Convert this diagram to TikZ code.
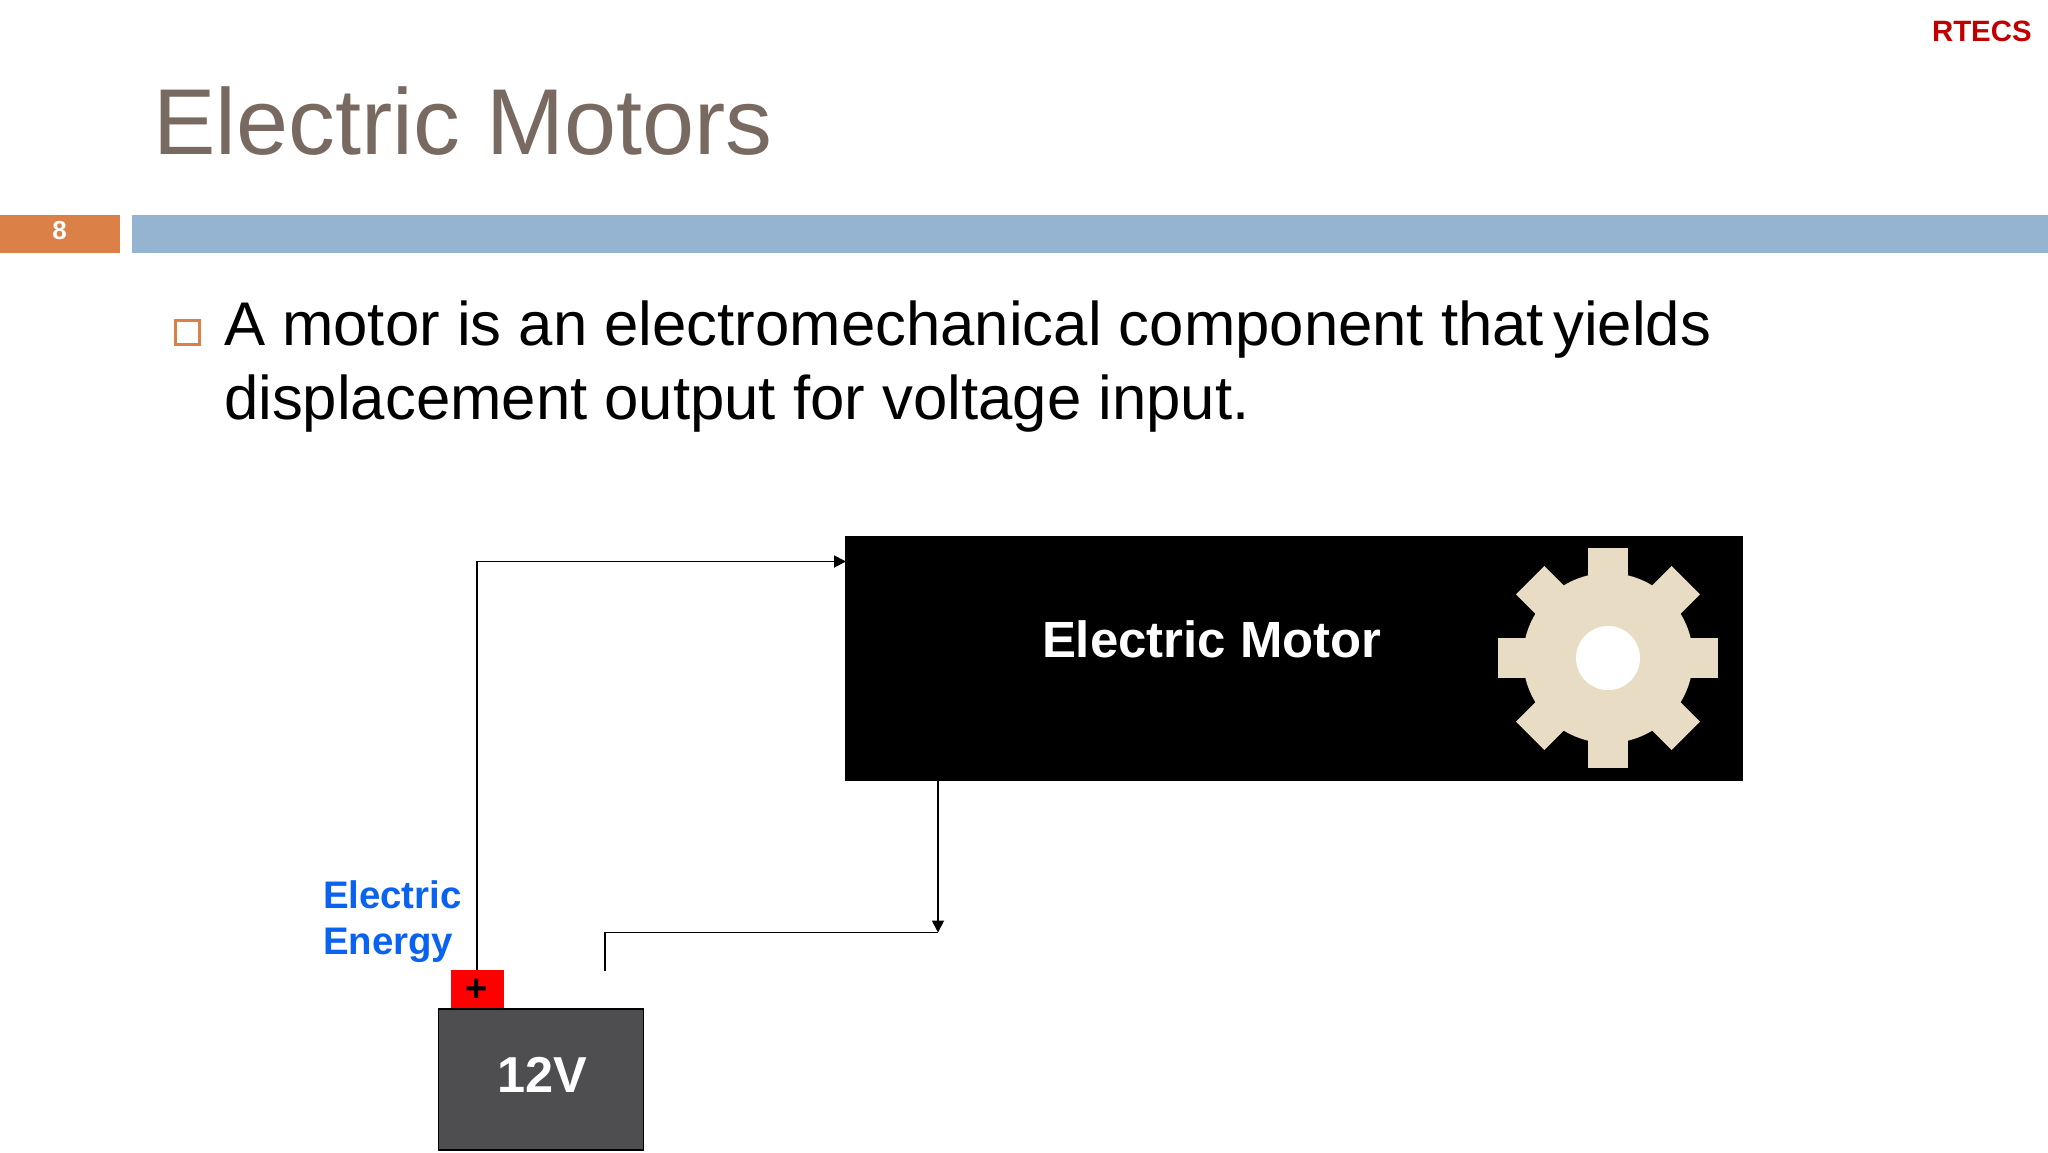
\documentclass[tikz,border=0pt]{standalone}
\usepackage{fontspec}
\setmainfont{Liberation Sans}
\usetikzlibrary{arrows.meta,calc}
\definecolor{titlebrown}{HTML}{786A60}
\definecolor{barorange}{HTML}{DB8148}
\definecolor{barblue}{HTML}{94B4D1}
\definecolor{gearcream}{HTML}{E8DCC4}
\definecolor{batgrey}{HTML}{4E4D50}
\definecolor{energyblue}{HTML}{0A62F0}
\definecolor{logored}{HTML}{C00000}
\newcommand{\fsz}[1]{\fontsize{#1pt}{#1pt}\selectfont}
\tikzset{
  plain/.style={inner sep=0pt,outer sep=0pt},
  txt/.style={plain,anchor=base west},
  bar/.style={plain,minimum height=38pt,anchor=north west},
  wire/.style={draw=black,line width=1.8pt},
  wirearrow/.style={wire,-{Triangle[length=12pt,width=12pt]}},
}
\begin{document}
\begin{tikzpicture}[x=1pt,y=-1pt]
\useasboundingbox (0,0) rectangle (2048,1152);
\fill[white] (0,0) rectangle (2048,1152);
% header
\node[txt,text=logored,font=\bfseries\fsz{29.4}] (logo) at (1932,41) {RTECS};
\node[txt,text=titlebrown,font=\fsz{93.6}] (title) at (153.5,154.5) {Electric Motors};
\node[bar,fill=barorange,minimum width=120pt] (numbar) at (0,215) {};
\node[bar,fill=barblue,minimum width=1916pt] (bluebar) at (132,215) {};
\node[plain,text=white,font=\bfseries\fsz{26}] (num) at ($(numbar.center)+(-0.5,-3)$) {8};
% bullet text
\node[plain,draw=barorange,line width=3pt,minimum size=24pt,anchor=center] (bullet) at (187,332) {};
\node[txt,font=\fsz{61.7}] (line1) at (224,345.5) {A motor is an electromechanical component that\hspace{-8pt} yields};
\node[txt,font=\fsz{61.7}] (line2) at (224,419.5) {displacement output for voltage input.};
% motor
\node[plain,fill=black,minimum width=898pt,minimum height=245pt,anchor=north west] (motor) at (845,536) {};
\node[txt,text=white,font=\bfseries\fsz{50.9}] (motorlabel) at (1042,657) {Electric Motor};
\begin{scope}[shift={(1608,658)}]
  \foreach \a in {0,45,...,315}{
    \fill[gearcream,rotate=\a] (-20,-110) rectangle (20,-60);
  }
  \fill[gearcream] (0,0) circle[radius=85];
  \fill[white] (0,0) circle[radius=32];
\end{scope}
% battery
\node[plain,fill=red,minimum width=53pt,minimum height=38pt,anchor=north west] (terminal) at (450.5,970) {};
\node[plain,font=\bfseries\fsz{38}] (plus) at (477,990) {+};
\node[plain,fill=batgrey,draw=black,line width=1.5pt,minimum width=205pt,minimum height=141pt,anchor=north west] (battery) at (438.5,1009) {};
\node[plain,text=white,font=\bfseries\fsz{50.5}] (volt) at ($(battery.center)+(1,-5)$) {12V};
\node[txt,text=energyblue,font=\bfseries\fsz{38.4}] (el1) at (323,908.5) {Electric};
\node[txt,text=energyblue,font=\bfseries\fsz{38.4}] (el2) at (323,954) {Energy};
% connectors
\coordinate (motorin) at (846,561.5);
\coordinate (motorout) at (938,781);
\coordinate (neg) at (605,971);
\coordinate (junction) at (938,932.5);
\draw[wirearrow] (terminal.north) |- (motorin);
\draw[wire] (neg) |- (junction);
\draw[wirearrow] (motorout) -- (junction);
\end{tikzpicture}
\end{document}
